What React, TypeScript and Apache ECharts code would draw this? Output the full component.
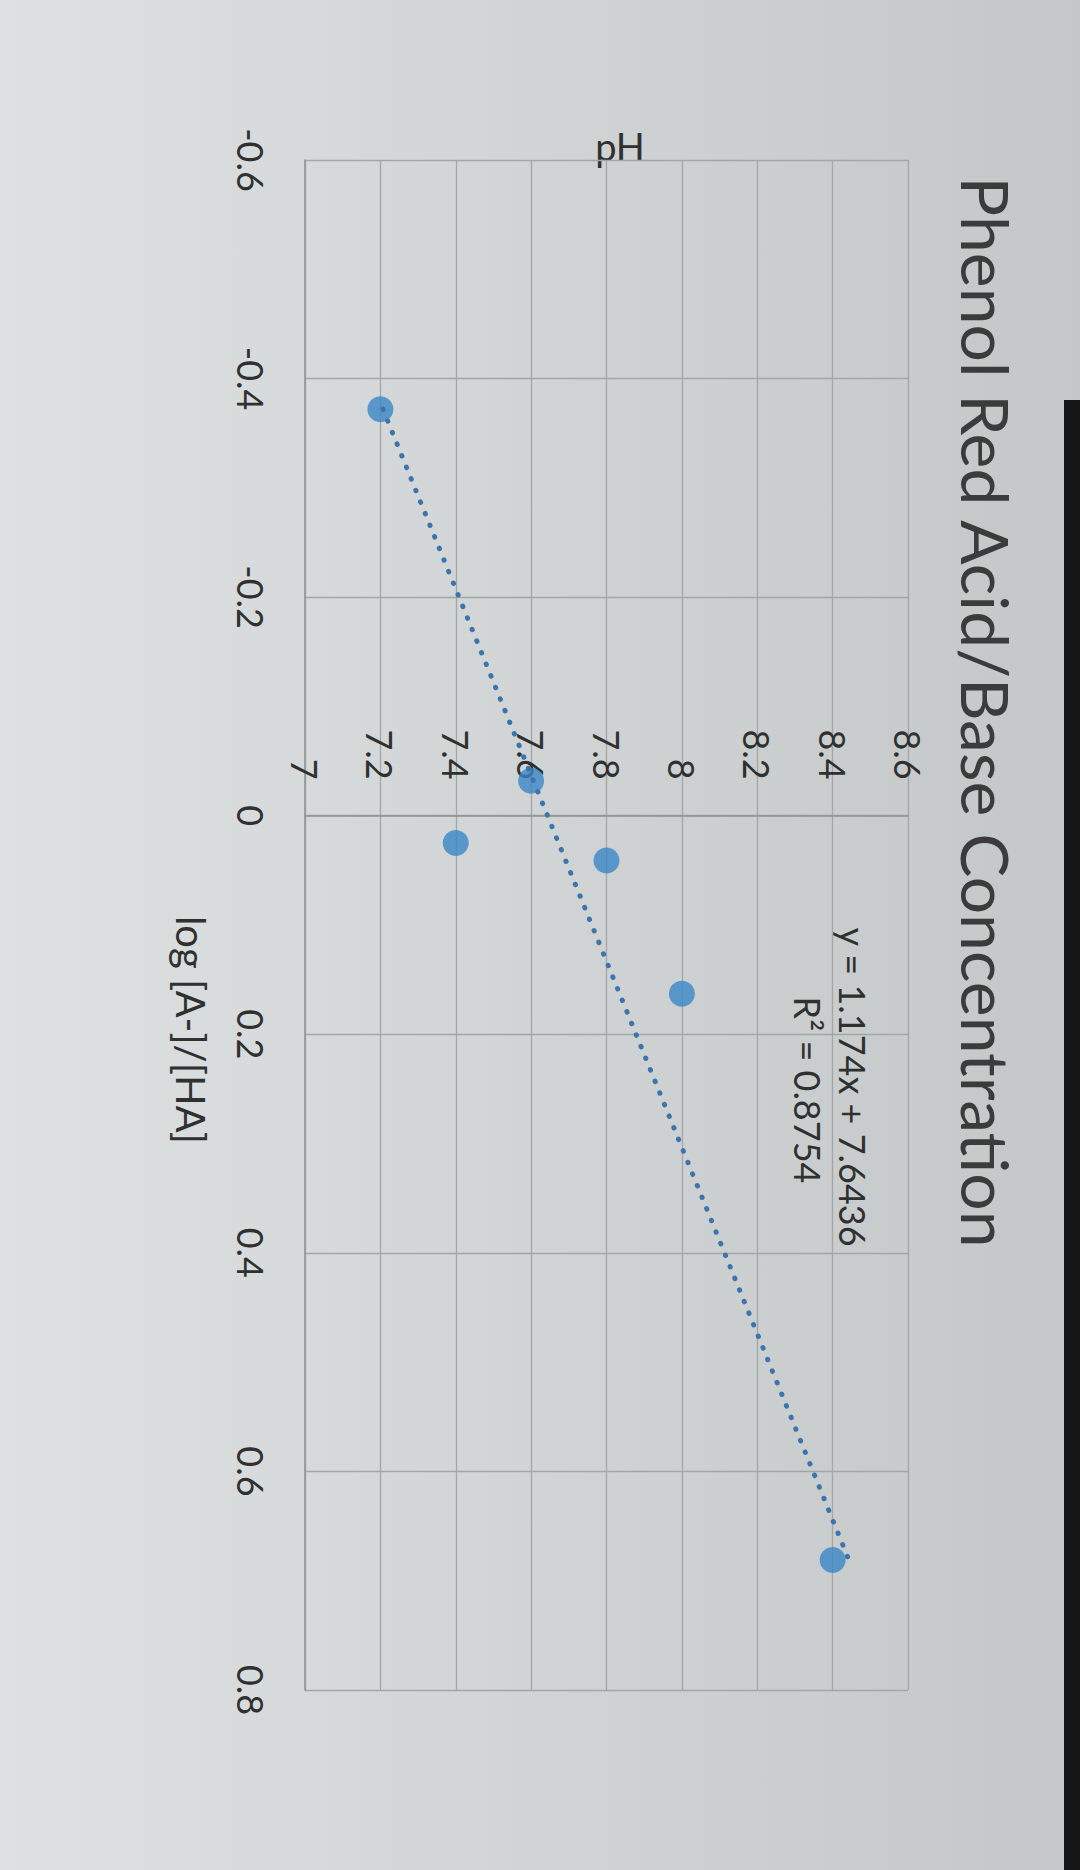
import React, { useEffect, useRef } from "react";
import * as echarts from "echarts";

// log [A-]/[HA] values (horizontal axis of the original chart)
const logRatio = [-0.372, -0.032, 0.025, 0.041, 0.163, 0.681];
// measured pH values
const pHValues = [7.2, 7.6, 7.4, 7.8, 8.0, 8.4];
// linear trendline as printed on the chart
const trendSlope = 1.174;
const trendIntercept = 7.6436;
const equationText = "y = 1.174x + 7.6436";
const rSquaredText = "R² = 0.8754";
const titleText = "Phenol Red Acid/Base Concentration";
const logAxisTitle = "log [A-]/[HA]";
const pHAxisTitle = "pH";

const FONT = "Lato";
const TEXT_COLOR = "#2f3030";
const GRID_COLOR = "#a3a6a6";

// plot-area layout (px)
const GRID_TOP = 160;
const GRID_BOTTOM = 180;
const CHART_H = 1870;
const LOG_MIN = -0.6;
const LOG_MAX = 0.8;
// vertical offset that moves the pH axis onto the log = 0 line
const PH_AXIS_OFFSET = -((0 - LOG_MIN) / (LOG_MAX - LOG_MIN)) * (CHART_H - GRID_TOP - GRID_BOTTOM);

function txt(text: string, x: number, y: number, fontSize: number, rotation = 0, fill = TEXT_COLOR) {
  return {
    type: "text",
    x,
    y,
    rotation,
    silent: true,
    style: {
      text,
      fontSize,
      fontFamily: FONT,
      fill,
      align: "center",
      verticalAlign: "middle",
      textAlign: "center",
      textVerticalAlign: "middle",
    },
  };
}

export default function App() {
  const ref = useRef<HTMLDivElement>(null);

  useEffect(() => {
    const chart = echarts.init(ref.current as HTMLDivElement, null, { renderer: "svg" });
    const points = logRatio.map((x, i) => [pHValues[i], x]);
    const xMin = Math.min(...logRatio);
    const xMax = Math.max(...logRatio);
    const trend = [xMin, xMax].map((x) => [trendSlope * x + trendIntercept, x]);

    chart.setOption({
      animation: false,
      backgroundColor: new echarts.graphic.LinearGradient(0, 0, 1, 0, [
        { offset: 0, color: "#dee1e1" },
        { offset: 1, color: "#c4c7c7" },
      ]),
      textStyle: { fontFamily: FONT },
      grid: { left: 305, right: 172, top: GRID_TOP, bottom: GRID_BOTTOM },
      xAxis: {
        type: "value",
        min: 7,
        max: 8.6,
        interval: 0.2,
        position: "top",
        offset: PH_AXIS_OFFSET,
        axisLine: { show: true, onZero: false, lineStyle: { color: "#8f9292", width: 1.5 } },
        axisTick: { show: false },
        axisLabel: { rotate: 90, margin: 36, fontSize: 36, color: TEXT_COLOR, fontFamily: FONT },
        splitLine: { show: true, lineStyle: { color: GRID_COLOR, width: 1.3 } },
      },
      yAxis: {
        type: "value",
        min: LOG_MIN,
        max: LOG_MAX,
        interval: 0.2,
        inverse: true,
        position: "left",
        axisLine: { show: true, onZero: false, lineStyle: { color: "#8f9292", width: 1.5 } },
        axisTick: { show: false },
        axisLabel: { rotate: -90, margin: 36, fontSize: 36, color: TEXT_COLOR, fontFamily: FONT },
        splitLine: { show: true, lineStyle: { color: GRID_COLOR, width: 1.3 } },
      },
      series: [
        {
          type: "scatter",
          data: points,
          symbol: "circle",
          symbolSize: 26,
          itemStyle: { color: "#3a87c7" },
          z: 3,
        },
        {
          type: "line",
          data: trend,
          showSymbol: false,
          symbol: "none",
          lineStyle: { color: "#3c74ab", width: 5, type: [0.5, 12], cap: "round" },
          z: 4,
        },
      ],
      graphic: [
        { type: "rect", shape: { x: 1064, y: 400, width: 16, height: 1470 }, style: { fill: "#161616" }, silent: true },
        txt(titleText, 986, 712, 66, -Math.PI / 2, "#3a3b3b"),
        txt(equationText, 853, 1087, 36, -Math.PI / 2),
        txt(rSquaredText, 808, 1090, 36, -Math.PI / 2),
        txt(logAxisTitle, 191, 1030, 40, -Math.PI / 2),
        txt(pHAxisTitle, 620, 146, 38, 0),
      ],
    });

    return () => chart.dispose();
  }, []);

  return (
    <div
      ref={ref}
      style={{ position: "absolute", left: 0, top: 0, width: 1080, height: 1870 }}
    />
  );
}
